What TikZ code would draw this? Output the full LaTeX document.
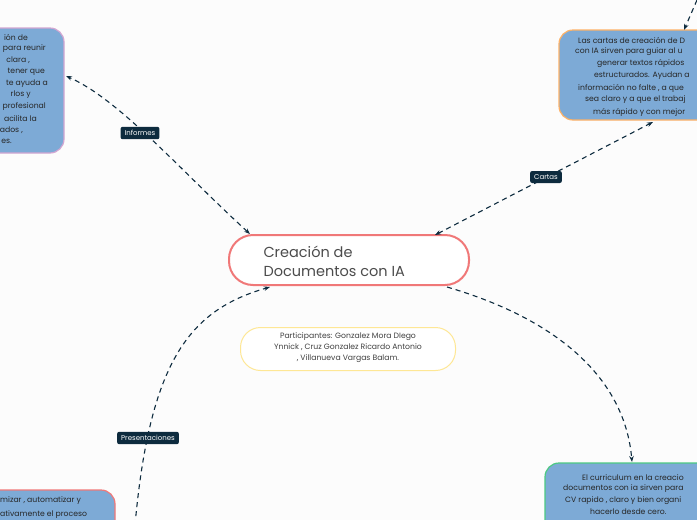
\documentclass[tikz,border=0pt]{standalone}
\usepackage{fontspec}
\setmainfont{Poppins}
\usetikzlibrary{arrows.meta}
\definecolor{boxblue}{HTML}{7DAAD6}
\definecolor{navy}{HTML}{0D2B3E}
\definecolor{salmon}{HTML}{F07878}
\tikzset{
  conn/.style={navy, line width=1.1pt, dash pattern=on 5pt off 4pt, -{Stealth[length=6pt]}},
  bconn/.style={conn, {Stealth[length=6pt]}-{Stealth[length=6pt]}},
  lbl/.style={fill=navy, text=white, rounded corners=2pt, font=\fontsize{7}{8}\selectfont, inner xsep=4pt, inner ysep=3.5pt},
  sub/.style={fill=boxblue, rounded corners=14pt, line width=1.2pt},
  tx/.style={font=\fontsize{7.7}{9}\selectfont, text=black!85, inner sep=0pt},
}
\begin{document}
\begin{tikzpicture}[x=1pt,y=-1pt]
\useasboundingbox (0,0) rectangle (697,520);
\fill[white!98!gray] (0,0) rectangle (697,520);
\clip (0,0) rectangle (697,520);
% boxes
\draw[sub, draw=violet!35] (-120,28) rectangle (64,153);
\draw[sub, draw=orange!60] (559,30) rectangle (740,120);
\draw[sub, draw=teal!60!green!70] (545,463) rectangle (740,560);
\draw[sub, draw=salmon] (-120,490) rectangle (115,560);
% central
\node[draw=salmon, line width=2pt, fill=white, rounded corners=24pt, minimum width=240pt, minimum height=50pt] (c) at (349,260) {};
\node[anchor=west, align=left, font=\fontsize{14.5}{19}\selectfont, text=black!70] (ct) at (260,261) {Creación de\\Documentos con IA};
\node[draw=yellow!60!orange!40, line width=1pt, fill=white, rounded corners=20pt, minimum width=215pt, minimum height=43pt] (p) at (348,349) {};
\node[align=center, font=\fontsize{7.7}{11}\selectfont, text=black!75] (pt) at (348,348) {Participantes: Gonzalez Mora DIego\\Ynnick , Cruz Gonzalez Ricardo Antonio\\, Villanueva Vargas Balam.};
% Informes text fragments
\foreach \t/\x [count=\i] in {{ión de}/28, {para reunir}/46, {clara ,}/30, {tener que}/45, {te ayuda a}/48, {rlos y}/31, {profesional}/46, {acilita la}/37, {ados ,}/23, {es.}/12}
  \node[tx, anchor=east] (inf\i) at (\x, 25.5+11.6*\i) {\t};
% Cartas text
\foreach \t/\x [count=\i] in {{Las cartas de creación de D}/578, {con IA sirven para guiar al u}/575, {generar textos rápidos}/597, {estructurados. Ayudan a}/594, {información no falte , a que}/578, {sea claro y a que el trabaj}/585, {más rápido y con mejor}/593}
  \node[tx, anchor=west] (car\i) at (\x, 28+12*\i) {\t};
% Curriculum
\foreach \t/\x [count=\i] in {{El curriculum en la creacio}/582, {documentos con ia sirven para}/563, {CV rapido , claro y bien organi}/565, {hacerlo desde cero.}/590}
  \node[tx, anchor=west] (cur\i) at (\x, 465.5+11.6*\i) {\t};
% Presentaciones
\node[tx, anchor=west] (pr1) at (0,501) {mizar , automatizar y};
\node[tx, anchor=west] (pr2) at (0,515) {ativamente el proceso};
% anchors
\coordinate (a1) at (250,234);
\coordinate (a2) at (66,76);
\coordinate (b1) at (435,235);
\coordinate (b2) at (653,122);
\coordinate (d1) at (447,287);
\coordinate (d2) at (632,462);
\coordinate (e1) at (135,525);
\coordinate (e2) at (270,287);
\coordinate (f1) at (697,0);
\coordinate (f2) at (684,30);
% connectors
\draw[bconn] (a1) .. controls (180,170) and (120,100) .. (a2);
\draw[bconn] (b1) -- (b2);
\draw[conn] (d1) .. controls (560,320) and (625,380) .. (d2);
\draw[conn] (e1) .. controls (150,360) and (190,310) .. (e2);
\draw[conn] (f1) -- (f2);
\node[lbl] (li) at (140,133) {Informes};
\node[lbl] (lc) at (546,177) {Cartas};
\node[lbl] (lp) at (148,438) {Presentaciones};
\end{tikzpicture}
\end{document}
